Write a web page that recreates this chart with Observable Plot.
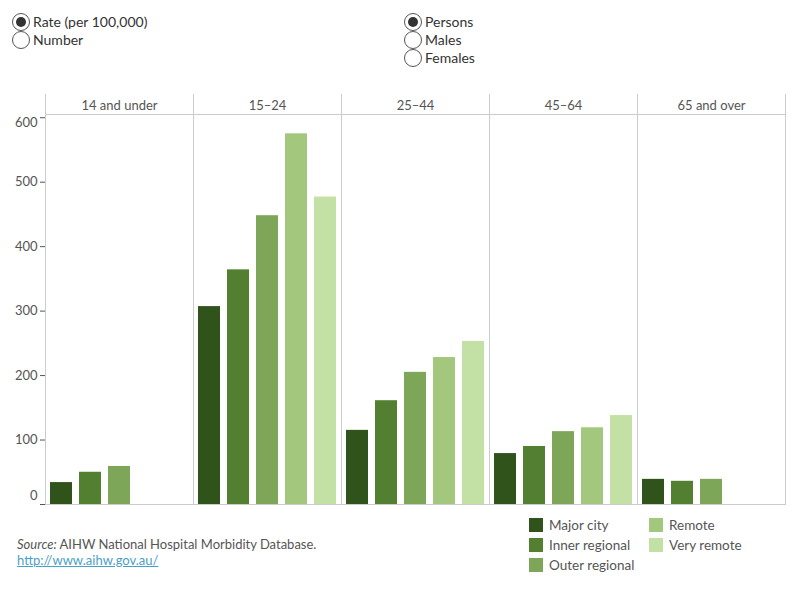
<!DOCTYPE html>
<html>
<head>
<meta charset="utf-8">
<script src="https://cdn.jsdelivr.net/npm/d3@7"></script>
<script src="https://cdn.jsdelivr.net/npm/@observablehq/plot@0.6"></script>
<style>
  html, body { margin: 0; padding: 0; background: #fff; }
  body { width: 800px; height: 600px; position: relative; font-family: Lato, "Open Sans", sans-serif; color: #333; overflow: hidden; }
  .radio { position: absolute; font-size: 14px; color: #333; line-height: 18px; }
  .radio .item { position: relative; height: 18px; padding-left: 21px; white-space: nowrap; }
  .radio .dot { position: absolute; left: 0; top: 0; width: 16px; height: 16px; border: 1px solid #555; border-radius: 50%; background: #fff; }
  .radio .dot.on::after { content: ""; position: absolute; left: 3px; top: 3px; width: 10px; height: 10px; border-radius: 50%; background: #333; }
  #chart { position: absolute; left: 0; top: 94px; }
  #legend { position: absolute; left: 529px; top: 517px; font-size: 13.5px; color: #555; }
  #legend .row { position: absolute; white-space: nowrap; height: 16px; line-height: 16px; }
  #legend .sw { display: inline-block; width: 14px; height: 14px; vertical-align: -2px; margin-right: 6px; }
  #source { position: absolute; left: 17px; top: 536px; font-size: 13px; color: #555; line-height: 16px; }
  #source a { color: #4a9fc6; text-decoration: underline; }
</style>
</head>
<body>
<div class="radio" style="left:12px; top:13px;">
  <div class="item"><span class="dot on"></span>Rate (per 100,000)</div>
  <div class="item"><span class="dot"></span>Number</div>
</div>
<div class="radio" style="left:404px; top:13px;">
  <div class="item"><span class="dot on"></span>Persons</div>
  <div class="item"><span class="dot"></span>Males</div>
  <div class="item"><span class="dot"></span>Females</div>
</div>
<div id="chart"></div>
<div id="legend"></div>
<div id="source"><i>Source:</i> AIHW National Hospital Morbidity Database.<br><a href="#">http://www.aihw.gov.au/</a></div>
<script>
const ageGroups = ["14 and under", "15–24", "25–44", "45–64", "65 and over"];
const regions = ["Major city", "Inner regional", "Outer regional", "Remote", "Very remote"];
const colors = ["#30521b", "#537f31", "#7ea658", "#a3c77c", "#c4e1a5"];
const majorCity = [34, 307, 115, 79, 39];
const innerRegional = [50, 364, 161, 90, 36];
const outerRegional = [59, 448, 205, 113, 39];
const remote = [null, 575, 228, 119, null];
const veryRemote = [null, 477, 253, 138, null];
const yTicks = [0, 100, 200, 300, 400, 500, 600];

const series = [majorCity, innerRegional, outerRegional, remote, veryRemote];
const data = [];
ageGroups.forEach((g, i) => {
  regions.forEach((r, j) => {
    const v = series[j][i];
    if (v != null) data.push({age: g, region: r, value: v});
  });
});

const marginTop = 20, marginLeft = 45, marginRight = 15, marginBottom = 2;
const chart = Plot.plot({
  width: 800,
  height: 412,
  marginTop, marginLeft, marginRight, marginBottom,
  style: {fontFamily: "Lato, 'Open Sans', sans-serif", fontSize: "13px", color: "#555", background: "#fff"},
  fx: {domain: ageGroups, padding: 0, label: null, tickSize: 0, tickPadding: 5, axis: "top"},
  x: {domain: regions, paddingInner: 0.25, paddingOuter: 0.125, axis: null},
  y: {domain: [0, 605], ticks: yTicks, tickSize: 5, tickPadding: 3, label: null, tickFormat: d => String(d)},
  color: {domain: regions, range: colors},
  marks: [
    Plot.barY(data, {fx: "age", x: "region", y: "value", fill: "region"}),
    Plot.frame({stroke: "#ccc"})
  ]
});
document.getElementById("chart").appendChild(chart);

const svg = d3.select(chart);
// keep the end tick labels inside the pane, as in the reference
svg.selectAll("text").each(function () {
  const t = this.textContent;
  if (t === "0") d3.select(this).attr("transform", (d3.select(this).attr("transform") || "") + " translate(0,-9)");
  if (t === "600") d3.select(this).attr("transform", (d3.select(this).attr("transform") || "") + " translate(0,5)");
});

// header dividers from the panel tops up through the facet header band
const fx = chart.scale("fx");
const edges = ageGroups.map(g => fx.apply(g)).concat([fx.apply(ageGroups[ageGroups.length - 1]) + fx.bandwidth]);
svg.append("g").selectAll("line").data(edges).join("line")
  .attr("x1", d => d + 0.5).attr("x2", d => d + 0.5)
  .attr("y1", 0).attr("y2", marginTop)
  .attr("stroke", "#ccc");

// legend
const legend = document.getElementById("legend");
const pos = [[0, 0], [0, 20], [0, 40], [120, 0], [120, 20]];
regions.forEach((r, i) => {
  const row = document.createElement("div");
  row.className = "row";
  row.style.left = pos[i][0] + "px";
  row.style.top = pos[i][1] + "px";
  row.innerHTML = `<span class="sw" style="background:${colors[i]}"></span>${r}`;
  legend.appendChild(row);
});
</script>
</body>
</html>
